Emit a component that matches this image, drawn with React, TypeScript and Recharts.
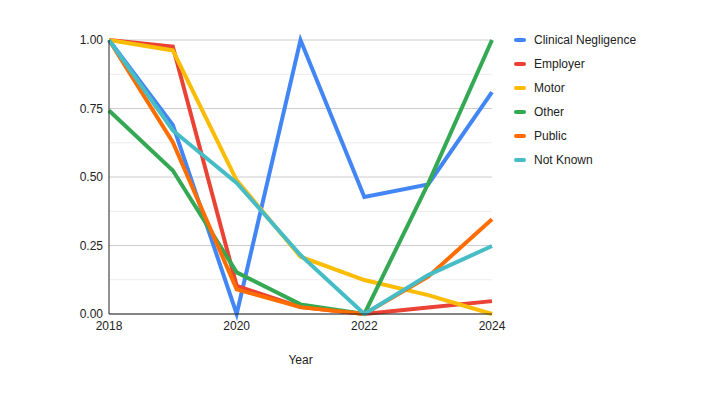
import React from 'react';
import { LineChart, Line, XAxis, YAxis, CartesianGrid, Legend } from 'recharts';

const years = [2018, 2019, 2020, 2021, 2022, 2023, 2024];
const clinicalNegligence = [1.0, 0.69, 0.0, 1.0, 0.427, 0.473, 0.81];
const employer = [1.0, 0.976, 0.103, 0.025, 0.0, 0.024, 0.047];
const motor = [1.0, 0.962, 0.488, 0.209, 0.124, 0.069, 0.0];
const other = [0.743, 0.524, 0.152, 0.035, 0.0, 0.476, 1.0];
const publicClaims = [1.0, 0.627, 0.09, 0.025, 0.0, 0.136, 0.346];
const notKnown = [1.0, 0.67, 0.478, 0.215, 0.0, 0.142, 0.248];

const xTicks = [2018, 2020, 2022, 2024];
const yTicks = [0, 0.25, 0.5, 0.75, 1];
const yMinorTicks = [0.125, 0.375, 0.625, 0.875];

const series = [
  { key: 'cn', name: 'Clinical Negligence', values: clinicalNegligence, color: '#4285F4' },
  { key: 'emp', name: 'Employer', values: employer, color: '#EA4335' },
  { key: 'mot', name: 'Motor', values: motor, color: '#FBBC04' },
  { key: 'oth', name: 'Other', values: other, color: '#34A853' },
  { key: 'pub', name: 'Public', values: publicClaims, color: '#FF6D01' },
  { key: 'nk', name: 'Not Known', values: notKnown, color: '#46BDC6' },
];

const data = years.map((y, i) => {
  const row: Record<string, number> = { year: y };
  series.forEach((s) => {
    row[s.key] = s.values[i];
  });
  return row;
});

const FONT = '"Liberation Sans", Arial, sans-serif';

const renderLegend = () => (
  <div style={{ fontFamily: FONT, fontSize: 12, color: '#222' }}>
    {series.map((s) => (
      <div key={s.key} style={{ height: 24, display: 'flex', alignItems: 'center' }}>
        <span
          style={{
            display: 'inline-block',
            width: 12,
            height: 4,
            borderRadius: 2,
            background: s.color,
            marginRight: 8,
          }}
        />
        <span>{s.name}</span>
      </div>
    ))}
  </div>
);

export default function App() {
  return (
    <div style={{ position: 'absolute', left: 0, top: 0, width: 720, height: 400, background: '#fff' }}>
      <LineChart
        width={720}
        height={400}
        data={data}
        margin={{ top: 40, right: 228, left: 49, bottom: 26 }}
      >
        <CartesianGrid vertical={false} horizontalValues={yMinorTicks} stroke="#ececec" strokeWidth={1} />
        <CartesianGrid vertical={false} horizontalValues={yTicks} stroke="#cccccc" strokeWidth={1} />
        <XAxis
          dataKey="year"
          type="number"
          domain={[2018, 2024]}
          ticks={xTicks}
          tickSize={0}
          tickMargin={7}
          height={60}
          axisLine={{ stroke: '#222', strokeWidth: 1 }}
          tick={{ fill: '#222', fontSize: 12, fontFamily: FONT }}
          label={{ value: 'Year', position: 'insideBottom', offset: 10, fill: '#222', fontSize: 12, fontFamily: FONT }}
        />
        <YAxis
          type="number"
          domain={[0, 1]}
          ticks={yTicks}
          width={60}
          tickSize={0}
          tickMargin={6}
          axisLine={{ stroke: '#222', strokeWidth: 1 }}
          tickFormatter={(v: number) => v.toFixed(2)}
          tick={{ fill: '#222', fontSize: 12, fontFamily: FONT }}
        />
        {series.map((s) => (
          <Line
            key={s.key}
            dataKey={s.key}
            name={s.name}
            stroke={s.color}
            strokeWidth={4}
            dot={false}
            activeDot={false}
            isAnimationActive={false}
          />
        ))}
        <Legend
          layout="vertical"
          align="center"
          verticalAlign="middle"
          content={renderLegend}
          wrapperStyle={{ left: 514, top: 28, width: 200, height: 150 }}
        />
      </LineChart>
    </div>
  );
}
